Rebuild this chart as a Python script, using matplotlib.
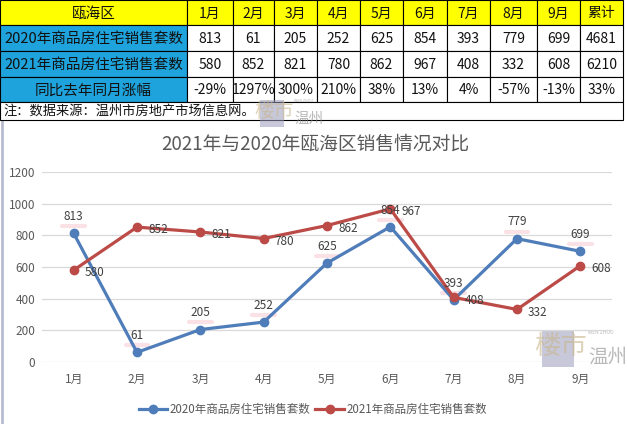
import matplotlib
matplotlib.use('Agg')
import matplotlib.pyplot as plt
from matplotlib.patches import Rectangle

plt.rcParams['font.family'] = ['Noto Sans CJK SC', 'DejaVu Sans']

# data
months = ['1月', '2月', '3月', '4月', '5月', '6月', '7月', '8月', '9月']
sales_2020 = [813, 61, 205, 252, 625, 854, 393, 779, 699]
sales_2021 = [580, 852, 821, 780, 862, 967, 408, 332, 608]
growth = ['-29%', '1297%', '300%', '210%', '38%', '13%', '4%', '-57%', '-13%']
total_2020 = 4681
total_2021 = 6210
total_growth = '33%'
name_2020 = '2020年商品房住宅销售套数'
name_2021 = '2021年商品房住宅销售套数'
row3_name = '同比去年同月涨幅'
district = '瓯海区'
note = '注：数据来源：温州市房地产市场信息网。'
title = '2021年与2020年瓯海区销售情况对比'
yticks = [0, 200, 400, 600, 800, 1000, 1200]

W, H = 627, 424
blue = '#4F7DB9'
red = '#BC4B48'

fig = plt.figure(figsize=(W / 100, H / 100), dpi=100)
fig.patch.set_facecolor('white')

# background axes in pixel coords for the table
bg = fig.add_axes([0, 0, 1, 1])
bg.set_xlim(0, W)
bg.set_ylim(H, 0)
bg.axis('off')

col_edges = [0, 187, 233, 274, 317, 360, 403, 447, 490, 537, 580, 623]
row_edges = [0, 25, 51, 77, 102]
header = [district] + months + ['累计']
rows = [
    [name_2020] + [str(v) for v in sales_2020] + [str(total_2020)],
    [name_2021] + [str(v) for v in sales_2021] + [str(total_2021)],
    [row3_name] + growth + [total_growth],
]
table = [header] + rows
for r in range(4):
    for c in range(len(col_edges) - 1):
        x0, x1 = col_edges[c], col_edges[c + 1]
        y0, y1 = row_edges[r], row_edges[r + 1]
        if r == 0:
            fc = '#FFFF00'
        elif c == 0:
            fc = '#1FA3DC'
        else:
            fc = 'white'
        bg.add_patch(Rectangle((x0, y0), x1 - x0, y1 - y0, facecolor=fc,
                               edgecolor='black', lw=0.8, zorder=2))
        fs = 10.5 if c == 0 else 10
        bg.text((x0 + x1) / 2, (y0 + y1) / 2 + 1, table[r][c], ha='center', va='center',
                fontsize=fs, color='#111111', zorder=3)
# note row
bg.add_patch(Rectangle((0, 102), 623, 18, facecolor='white', edgecolor='black', lw=0.8, zorder=2))
bg.text(3, 111, note, ha='left', va='center', fontsize=9.5, color='#111111', zorder=3)

# chart frame left border
bg.plot([2, 2], [120, H], color='#b8bcd0', lw=2, zorder=1)

# title
bg.text(315, 144, title, ha='center', va='center', fontsize=13.5, color='#595959', zorder=3)

# chart axes
x0p, x1p, y0p, y1p = 42, 612, 362, 172
ax = fig.add_axes([x0p / W, (H - y0p) / H, (x1p - x0p) / W, (y0p - y1p) / H])
ax.set_facecolor('none')
xs = list(range(len(months)))
ax.set_xlim(-0.5, len(months) - 0.5)
ax.set_ylim(0, 1200)
ax.set_yticks(yticks)
ax.set_xticks(xs)
ax.set_xticklabels(months)
ax.tick_params(length=0, labelsize=8.5, labelcolor='#595959')
ax.tick_params(axis='x', pad=8)
ax.tick_params(axis='y', pad=5)
ax.grid(axis='y', color='#d9d9d9', lw=0.9)
ax.set_axisbelow(True)
for s in ax.spines.values():
    s.set_visible(False)

ax.plot(xs, sales_2020, color=blue, lw=2.3, marker='o', ms=6, label=name_2020, zorder=3)
ax.plot(xs, sales_2021, color=red, lw=2.3, marker='o', ms=6, label=name_2021, zorder=4)

for x, v in zip(xs, sales_2020):
    ax.annotate(str(v), (x, v), xytext=(0, 12), textcoords='offset points',
                ha='center', va='center', fontsize=8.5, color='#404040', zorder=5)
    # faint pink smudge under the label, as in the source image
    ax.plot([x - 0.18, x + 0.18], [v + 45, v + 45], color='#f6c4cf', lw=3, alpha=0.5, zorder=1,
            solid_capstyle='round')
for x, v in zip(xs, sales_2021):
    ax.annotate(str(v), (x, v), xytext=(8, -2), textcoords='offset points',
                ha='left', va='center', fontsize=8.5, color='#404040', zorder=5)

ax.legend(loc='upper center', bbox_to_anchor=(0.475, -0.16), ncol=2, frameon=False,
          fontsize=8.3, labelcolor='#595959', handlelength=2.5, columnspacing=0.4,
          handletextpad=0.2)

# watermarks
def watermark(x, y, s=1.0):
    bg.add_patch(Rectangle((x + 8 * s, y - 6 * s), 32 * s, 36 * s, facecolor='#9a9cbc',
                           alpha=0.55, edgecolor='none', zorder=6))
    bg.text(x, y + 10 * s, '楼市', fontsize=19 * s, color='#c9b48a', alpha=0.6, va='center', zorder=7)
    bg.text(x + 54 * s, y - 4 * s, 'WEN ZHOU', fontsize=3.5 * s, color='#999999', alpha=0.7,
            va='center', zorder=7)
    bg.text(x + 54 * s, y + 20 * s, '温州', fontsize=14 * s, color='#8a8a8a', alpha=0.6,
            va='center', zorder=7)

watermark(534, 337)
watermark(254, 104, 0.75)

fig.savefig('out.png', dpi=100, facecolor='white')
